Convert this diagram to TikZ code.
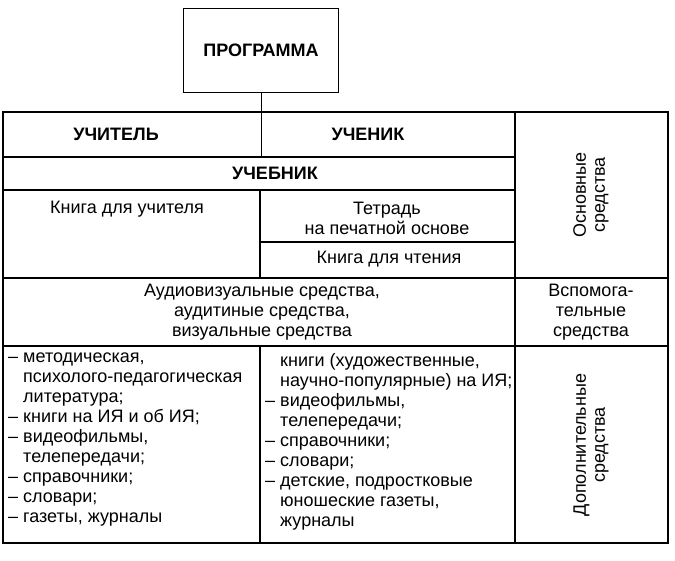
\documentclass[tikz,border=0pt]{standalone}
\usepackage{fontspec}
\setmainfont{Liberation Sans}
\begin{document}
\begin{tikzpicture}[x=1pt,y=-1pt,
  ln/.style={line width=1.1pt},
  txt/.style={font=\fontsize{18}{20}\selectfont, inner sep=0pt},
  hd/.style={font=\fontsize{18}{20}\selectfont\bfseries, inner sep=0pt}]
\useasboundingbox (0,0) rectangle (675,561);
\node[draw,ln,minimum width=155pt,minimum height=84pt,anchor=north west,inner sep=0pt] (prog) at (183,8) {};
\node[hd] (progt) at (prog.center) {ПРОГРАММА};
\draw[ln] (3,112) rectangle (668,543);
\coordinate (c1) at (prog.south |- 0,112);
\draw[line width=0.6pt] (prog.south) -- (c1);
\draw[ln] (c1) -- (prog.south |- 0,157);
\draw[ln] (3,157) -- (515,157);
\draw[ln] (3,190) -- (515,190);
\draw[ln] (260,190) -- (260,278);
\draw[ln] (260,242) -- (515,242);
\draw[ln] (3,278) -- (668,278);
\draw[ln] (3,346) -- (668,346);
\draw[ln] (260,346) -- (260,543);
\draw[ln] (515,112) -- (515,543);
\node[hd] (t1) at (116,134) {УЧИТЕЛЬ};
\node[hd] (t2) at (368,134) {УЧЕНИК};
\node[hd] (t3) at (275,173) {УЧЕБНИК};
\node[txt] (t4) at (127,209) {Книга для учителя};
\node[txt,align=center] (t5) at (387,218) {Тетрадь\\на печатной основе};
\node[txt] (t6) at (389,259) {Книга для чтения};
\node[txt,align=center] (t7) at (262,312) {Аудиовизуальные средства,\\аудитиные средства,\\визуальные средства};
\node[txt,align=center] (t8) at (591,312) {Вспомога-\\тельные\\средства};
\node[txt,align=center,rotate=90,font=\fontsize{18}{19}\selectfont] (t9) at (591,195) {Основные\\средства};
\node[txt,align=center,rotate=90,font=\fontsize{18}{19}\selectfont] (t10) at (591,445) {Дополнительные\\средства};
\node[txt,align=left,anchor=north west] (t11) at (8,353) {– методическая,\\\phantom{– }психолого-педагогическая\\\phantom{– }литература;\\– книги на ИЯ и об ИЯ;\\– видеофильмы,\\\phantom{– }телепередачи;\\– справочники;\\– словари;\\– газеты, журналы};
\node[txt,align=left,anchor=north west] (t12) at (265,353) {\phantom{– }книги (художественные,\\\phantom{– }научно-популярные) на ИЯ;\\– видеофильмы,\\\phantom{– }телепередачи;\\– справочники;\\– словари;\\– детские, подростковые\\\phantom{– }юношеские газеты,\\\phantom{– }журналы};
\end{tikzpicture}
\end{document}
